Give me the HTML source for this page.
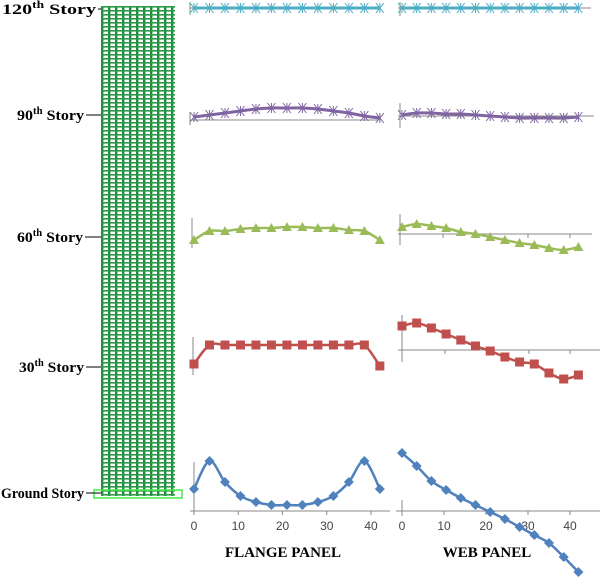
<!DOCTYPE html>
<html><head><meta charset="utf-8"><style>
html,body{margin:0;padding:0;background:#fff;}
svg{display:block;}
.lbl{font-family:"Liberation Serif",serif;font-weight:bold;font-size:15px;fill:#000;}
.ttl{font-family:"Liberation Serif",serif;font-weight:bold;font-size:15px;fill:#000;}
.tick{font-family:"Liberation Sans",sans-serif;font-size:12px;fill:#444;}
</style></head><body>
<svg id="chart" width="601" height="578" viewBox="0 0 601 578" xmlns="http://www.w3.org/2000/svg">
<defs>
<pattern id="grid" x="101" y="6" width="7" height="4" patternUnits="userSpaceOnUse">
<rect width="7" height="4" fill="#fff"/>
<rect x="0" y="0" width="2.4" height="4" fill="#1e8a3c"/>
<rect x="0" y="0" width="7" height="1.6" fill="#2a9a4a"/>
</pattern>
</defs>
<rect x="101" y="6" width="74" height="490" fill="url(#grid)"/>
<rect x="94" y="490" width="88" height="8" fill="none" stroke="#44ee44" stroke-width="1.5"/>
<g id="story-labels"></g>
<g id="panels"></g>
<text class="ttl" x="283" y="557" text-anchor="middle">FLANGE PANEL</text>
<text class="ttl" x="487" y="557" text-anchor="middle">WEB PANEL</text>
</svg>
<script>
const NS="http://www.w3.org/2000/svg";
const xPositions=[0,3.5,7,10.5,14,17.5,21,24.5,28,31.5,35,38.5,42];
const xTicks=[0,10,20,30,40];
const flange120=[0,0,0,0,0,0,0,0,0,0,0,0,0];
const web120=[0,0,0,0,0,0,0,0,0,0,0,0,0];
const flange90=[3,5,7,9,11,12,12,12,11,9,7,4,2];
const web90=[1,3,3,2,2,1,0,-1,-2,-2,-2,-2,-1];
const flange60=[5,14,14,16,17,17,18,18,17,17,15,14,5];
const web60=[7,10,8,6,2,0,-3,-6,-9,-11,-14,-16,-13];
const flange30=[2,21,21,21,21,21,21,21,21,21,21,21,0];
const web30=[24,27,22,16,10,4,-1,-7,-12,-14,-23,-29,-25];
const flange0=[22,50,29,15,9,6,6,6,9,15,29,50,22];
const web0=[58,45,30,21,13,6,-1,-8,-16,-24,-32,-46,-61];
const storyNames=["120","90","60","30","Ground"];

const panels=document.getElementById('panels');
const labels=document.getElementById('story-labels');
function mk(tag,attrs,parent){const e=document.createElementNS(NS,tag);for(const k in attrs)e.setAttribute(k,attrs[k]);(parent||panels).appendChild(e);return e;}
const fx=v=>194+v*(371-194)/40;
const wx=v=>402+v*(570-402)/40;

const storyY=[9,115,237,367,493];
const labelStart=[2,17,17,19,1];
const labelEnd=[96,84,83,84,84];
storyNames.forEach((n,i)=>{
  const t=mk('text',{class:'lbl',x:labelStart[i],y:storyY[i]+5,textLength:labelEnd[i]-labelStart[i],lengthAdjust:'spacingAndGlyphs'},labels);
  
  
  if(n==="Ground"){t.textContent="Ground Story";}
  else{t.appendChild(document.createTextNode(n));const s=mk('tspan',{dy:-6,'font-size':'10'},t);s.textContent="th";const s2=mk('tspan',{dy:6},t);s2.textContent=" Story";}
  const l=mk('line',{x1:labelEnd[i]+2,x2:101,y1:storyY[i],y2:storyY[i],stroke:'#000','stroke-width':1},labels);
  
  
});

function marker(type,x,y,c,g){
  if(type==='x'){mk('path',{d:`M${x-4},${y-5}L${x+4},${y+5}M${x-4},${y+5}L${x+4},${y-5}M${x},${y-5}L${x},${y+5}`,stroke:c,'stroke-width':1,fill:'none'},g);}
  else if(type==='tri'){mk('path',{d:`M${x},${y-5}L${x+5},${y+4}L${x-5},${y+4}Z`,fill:c},g);}
  else if(type==='sq'){mk('rect',{x:x-4.5,y:y-4.5,width:9,height:9,fill:c},g);}
  else {mk('path',{d:`M${x},${y-5}L${x+5},${y}L${x},${y+5}L${x-5},${y}Z`,fill:c},g);}
}
function series(name,data,xs,baseY,color,type){
  const g=mk('g',{});
  
  
  const pts=data.map((v,i)=>[xs(xPositions[i]),baseY-v]);
  let d='M'+pts[0][0]+','+pts[0][1];
  for(let i=0;i<pts.length-1;i++){
    const p0=pts[Math.max(0,i-1)],p1=pts[i],p2=pts[i+1],p3=pts[Math.min(pts.length-1,i+2)];
    const c1=[p1[0]+(p2[0]-p0[0])/6,p1[1]+(p2[1]-p0[1])/6],c2=[p2[0]-(p3[0]-p1[0])/6,p2[1]-(p3[1]-p1[1])/6];
    d+=`C${c1[0]},${c1[1]} ${c2[0]},${c2[1]} ${p2[0]},${p2[1]}`;
  }
  mk('path',{d:d,fill:'none',stroke:color,'stroke-width':type==='x'?3:2.5},g);
  pts.forEach(p=>marker(type,p[0],p[1],color,g));
}
function axis(name,x0,x1,y,vx,vy0,vy1,ticks){
  const g=mk('g',{stroke:'#888','stroke-width':1});
  
  
  if(x1) mk('line',{x1:x0,x2:x1,y1:y,y2:y},g);
  mk('line',{x1:vx,x2:vx,y1:vy0,y2:vy1},g);
  (ticks||[]).forEach(t=>mk('line',{x1:t,x2:t,y1:y,y2:y+4},g));
}
axis('flange-120-axis',190,378,8,190,2,15);
axis('web-120-axis',398,591,8,400,2,16);
axis('flange-90-axis',190,378,120,190,112,125);
axis('web-90-axis',398,594,116,400,103,128);
axis('flange-60-axis',0,0,0,192,218,248);
axis('web-60-axis',398,592,234,400,214,245,[443,528,570]);
axis('flange-30-axis',0,0,0,193,337,375);
axis('web-30-axis',398,600,350,402,315,362,[445,529,570]);
axis('flange-ground-axis',190,390,511,194,462,515,xTicks.map(fx));
axis('web-ground-axis',396,600,511,402,500,516,xTicks.map(wx));
xTicks.forEach(t=>{
  const a=mk('text',{class:'tick',x:fx(t),y:530,'text-anchor':'middle'});a.textContent=t;
  
  const b=mk('text',{class:'tick',x:wx(t),y:530,'text-anchor':'middle'});b.textContent=t;
  
});
series('flange-120-series',flange120,fx,8,'#4bacc6','x');
series('web-120-series',web120,wx,8,'#4bacc6','x');
series('flange-90-series',flange90,fx,120,'#8064a2','x');
series('web-90-series',web90,wx,116,'#8064a2','x');
series('flange-60-series',flange60,fx,245,'#9bbb59','tri');
series('web-60-series',web60,wx,234,'#9bbb59','tri');
series('flange-30-series',flange30,fx,366,'#c0504d','sq');
series('web-30-series',web30,wx,350,'#c0504d','sq');
series('flange-ground-series',flange0,fx,511,'#4f81bd','dia');
series('web-ground-series',web0,wx,511,'#4f81bd','dia');
</script>
</body></html>
